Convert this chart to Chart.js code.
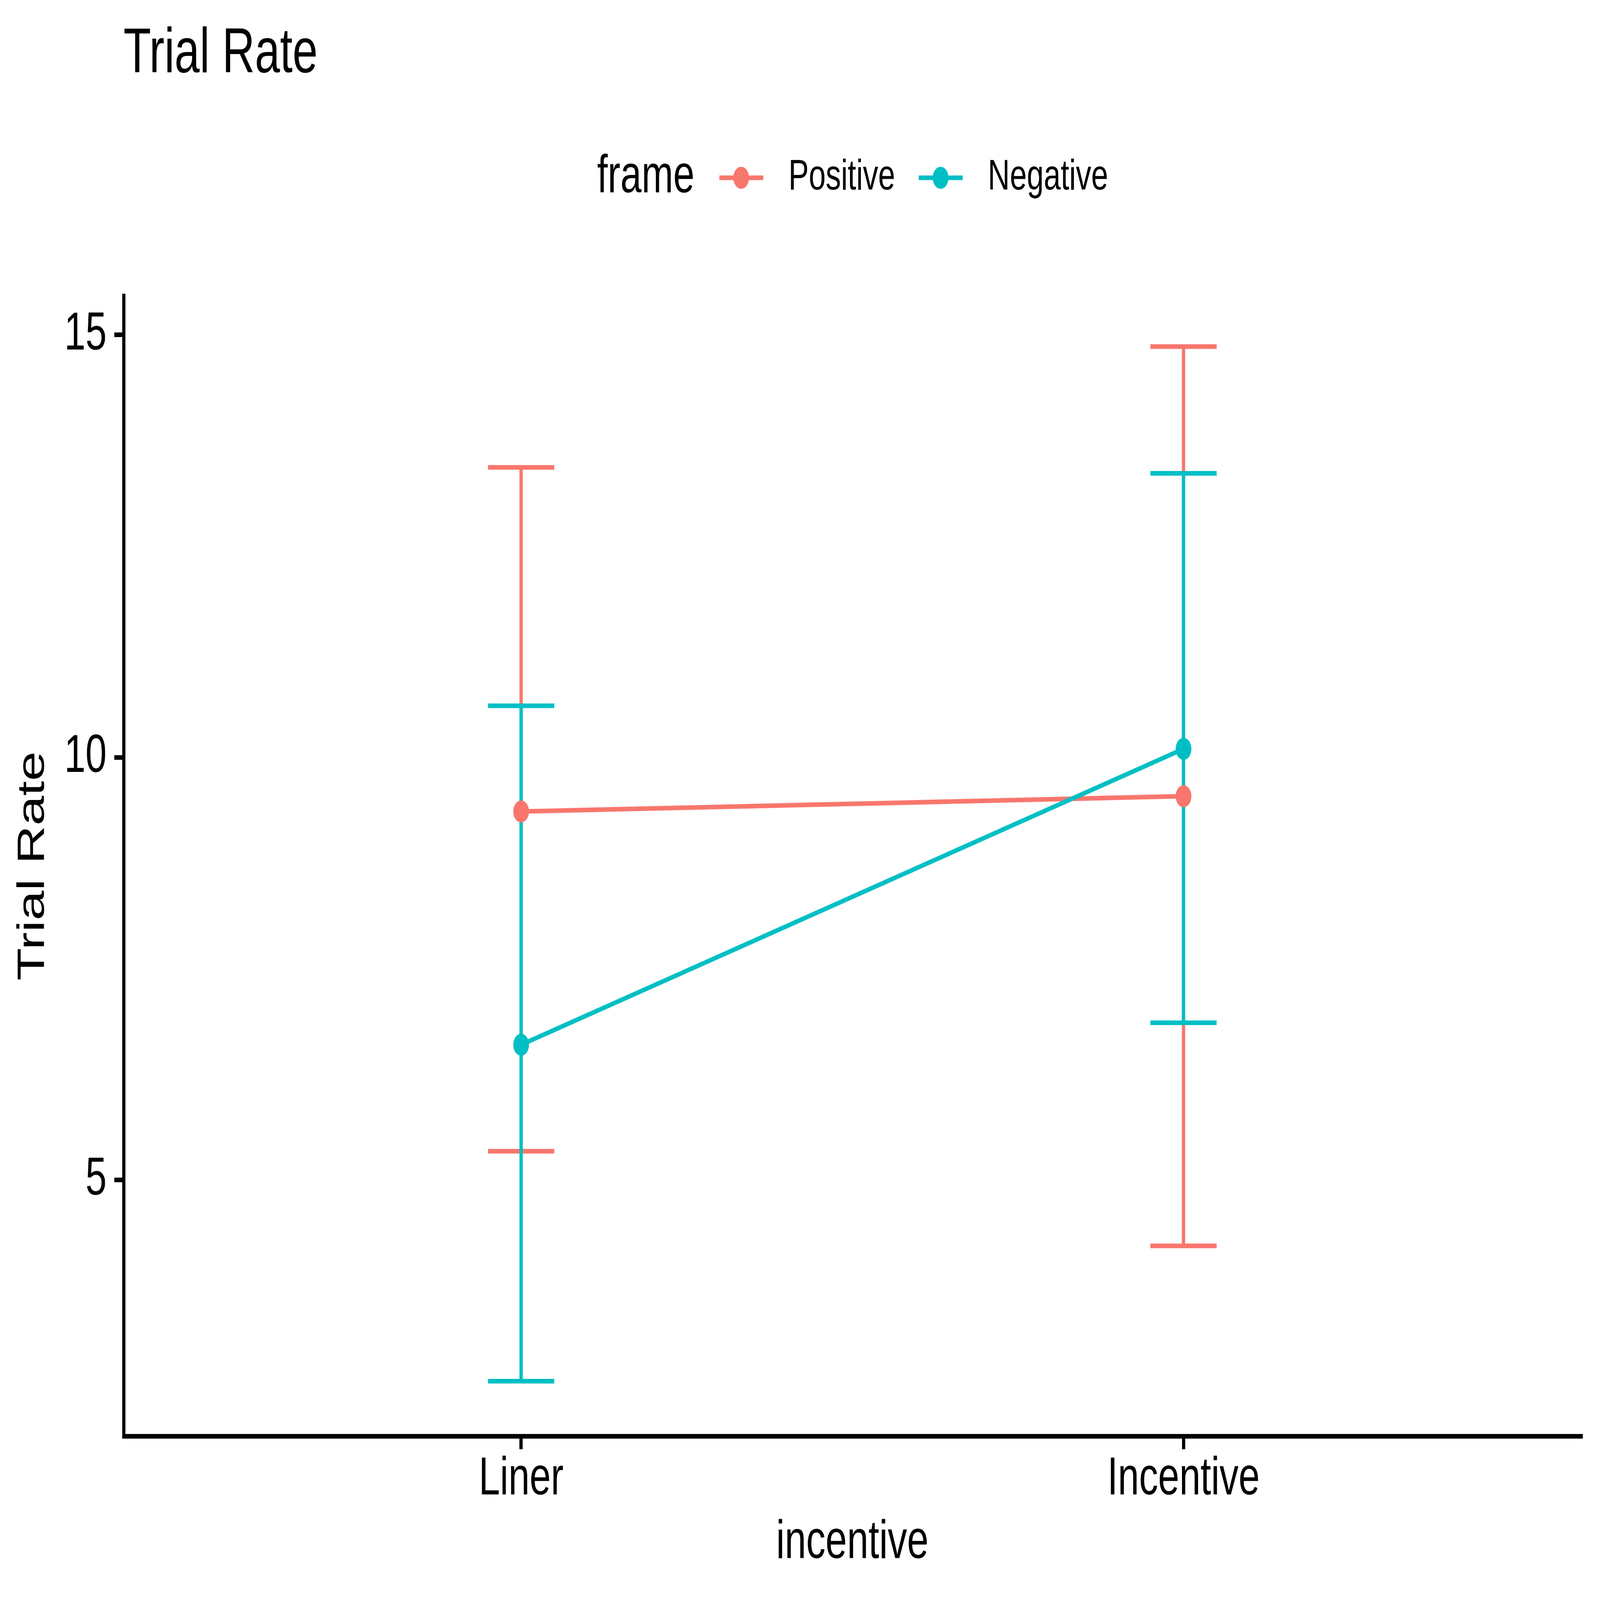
<!DOCTYPE html>
<html>
<head>
<meta charset="utf-8">
<title>Trial Rate</title>
<script src="https://cdn.jsdelivr.net/npm/chart.js@4.4.1/dist/chart.umd.min.js"></script>
<style>
    html, body { margin: 0; padding: 0; background: #ffffff; overflow: hidden; }
    canvas { display: block; }
</style>
</head>
<body>
<canvas id="trialChart" width="6300" height="4500" style="width:100vw;height:100vh"></canvas>
<script>
// categories on the x axis and the two frames (legend)
const incentives = ['Liner', 'Incentive'];
const frames = ['Positive', 'Negative'];

// means and error bar limits
const positiveMean = [9.36, 9.54];
const positiveLow = [5.34, 4.22];
const positiveHigh = [13.43, 14.86];
const negativeMean = [6.60, 10.10];
const negativeLow = [2.62, 6.86];
const negativeHigh = [10.61, 13.36];

const yTicks = [5, 10, 15];

const colors = ['#F8766D', '#00BFC4'];
const fontFamily = '"Liberation Sans", Arial, Helvetica, sans-serif';
const lineW = 13;

function toPoints(values) {
    return values.map(function (v, i) { return { x: i + 1, y: v }; });
}

const errorSets = [
    { color: colors[0], low: positiveLow, high: positiveHigh },
    { color: colors[1], low: negativeLow, high: negativeHigh }
];

// error bars drawn under the lines and points
const errorBars = {
    id: 'errorBars',
    beforeDatasetsDraw: function (chart) {
        const ctx = chart.ctx;
        const xs = chart.scales.x;
        const ys = chart.scales.y;
        ctx.save();
        ctx.lineWidth = lineW;
        ctx.lineCap = 'butt';
        errorSets.forEach(function (set) {
            ctx.strokeStyle = set.color;
            set.low.forEach(function (lo, i) {
                const xc = xs.getPixelForValue(i + 1);
                const xl = xs.getPixelForValue(i + 1 - 0.05);
                const xr = xs.getPixelForValue(i + 1 + 0.05);
                const yl = ys.getPixelForValue(lo);
                const yh = ys.getPixelForValue(set.high[i]);
                ctx.beginPath();
                ctx.moveTo(xl, yh); ctx.lineTo(xr, yh);
                ctx.moveTo(xc, yh); ctx.lineTo(xc, yl);
                ctx.moveTo(xl, yl); ctx.lineTo(xr, yl);
                ctx.stroke();
            });
        });
        ctx.restore();
    }
};

// plot title and the legend on top
const header = {
    id: 'header',
    afterDraw: function (chart) {
        const ctx = chart.ctx;
        ctx.save();
        ctx.fillStyle = '#000000';
        ctx.textAlign = 'left';
        ctx.textBaseline = 'alphabetic';
        ctx.font = '178px ' + fontFamily;
        ctx.fillText('Trial Rate', 486, 203);

        const midY = 500;
        let x = 2351;
        ctx.textBaseline = 'middle';
        ctx.font = '150px ' + fontFamily;
        ctx.fillText('frame', x, midY);
        x += ctx.measureText('frame').width + 98;

        ctx.font = '120px ' + fontFamily;
        frames.forEach(function (name, i) {
            ctx.strokeStyle = colors[i];
            ctx.lineWidth = lineW;
            ctx.beginPath();
            ctx.moveTo(x, midY);
            ctx.lineTo(x + 173, midY);
            ctx.stroke();
            ctx.fillStyle = colors[i];
            ctx.beginPath();
            ctx.arc(x + 86, midY, 31, 0, Math.PI * 2);
            ctx.fill();
            x += 173 + 99;
            ctx.fillStyle = '#000000';
            ctx.fillText(name, x, midY);
            x += ctx.measureText(name).width + 93;
        });
        ctx.restore();
    }
};

const ctx = document.getElementById('trialChart').getContext('2d');

const trialChart = new Chart(ctx, {
    type: 'line',
    data: {
        datasets: [{
            label: frames[0],
            data: toPoints(positiveMean),
            borderColor: colors[0],
            backgroundColor: colors[0],
            pointBackgroundColor: colors[0],
            borderWidth: lineW,
            pointRadius: 31,
            pointBorderWidth: 0,
            order: 1
        }, {
            label: frames[1],
            data: toPoints(negativeMean),
            borderColor: colors[1],
            backgroundColor: colors[1],
            pointBackgroundColor: colors[1],
            borderWidth: lineW,
            pointRadius: 31,
            pointBorderWidth: 0,
            order: 0
        }]
    },
    options: {
        responsive: false,
        animation: false,
        devicePixelRatio: 1,
        events: [],
        layout: {
            padding: { top: 832, left: 0, right: 75, bottom: 0 }
        },
        plugins: {
            legend: { display: false },
            title: { display: false },
            tooltip: { enabled: false }
        },
        scales: {
            x: {
                type: 'linear',
                min: 0.4,
                max: 2.6,
                afterBuildTicks: function (scale) {
                    scale.ticks = incentives.map(function (c, i) { return { value: i + 1 }; });
                },
                afterFit: function (scale) { scale.height = 461; },
                ticks: {
                    color: '#000000',
                    padding: 11,
                    maxRotation: 0,
                    font: { family: fontFamily, size: 150, lineHeight: 1 },
                    callback: function (value) { return incentives[value - 1]; }
                },
                grid: {
                    display: true,
                    drawOnChartArea: false,
                    drawTicks: true,
                    tickLength: 37,
                    color: '#000000',
                    lineWidth: lineW
                },
                border: { display: true, color: '#000000', width: lineW },
                title: {
                    display: true,
                    text: 'incentive',
                    color: '#000000',
                    font: { family: fontFamily, size: 152, lineHeight: 1.2 },
                    padding: { top: 0, bottom: 69 }
                }
            },
            y: {
                min: 1.97,
                max: 15.46,
                afterBuildTicks: function (scale) {
                    scale.ticks = yTicks.map(function (v) { return { value: v }; });
                },
                afterFit: function (scale) { scale.width = 487; },
                ticks: {
                    color: '#000000',
                    padding: 30,
                    font: { family: fontFamily, size: 150, lineHeight: 1 }
                },
                grid: {
                    display: true,
                    drawOnChartArea: false,
                    drawTicks: true,
                    tickLength: 37,
                    color: '#000000',
                    lineWidth: lineW
                },
                border: { display: true, color: '#000000', width: lineW },
                title: {
                    display: true,
                    text: 'Trial Rate',
                    color: '#000000',
                    font: { family: fontFamily, size: 150, lineHeight: 1.2 },
                    padding: { top: 42, bottom: 0 }
                }
            }
        }
    },
    plugins: [errorBars, header]
});
</script>
</body>
</html>
